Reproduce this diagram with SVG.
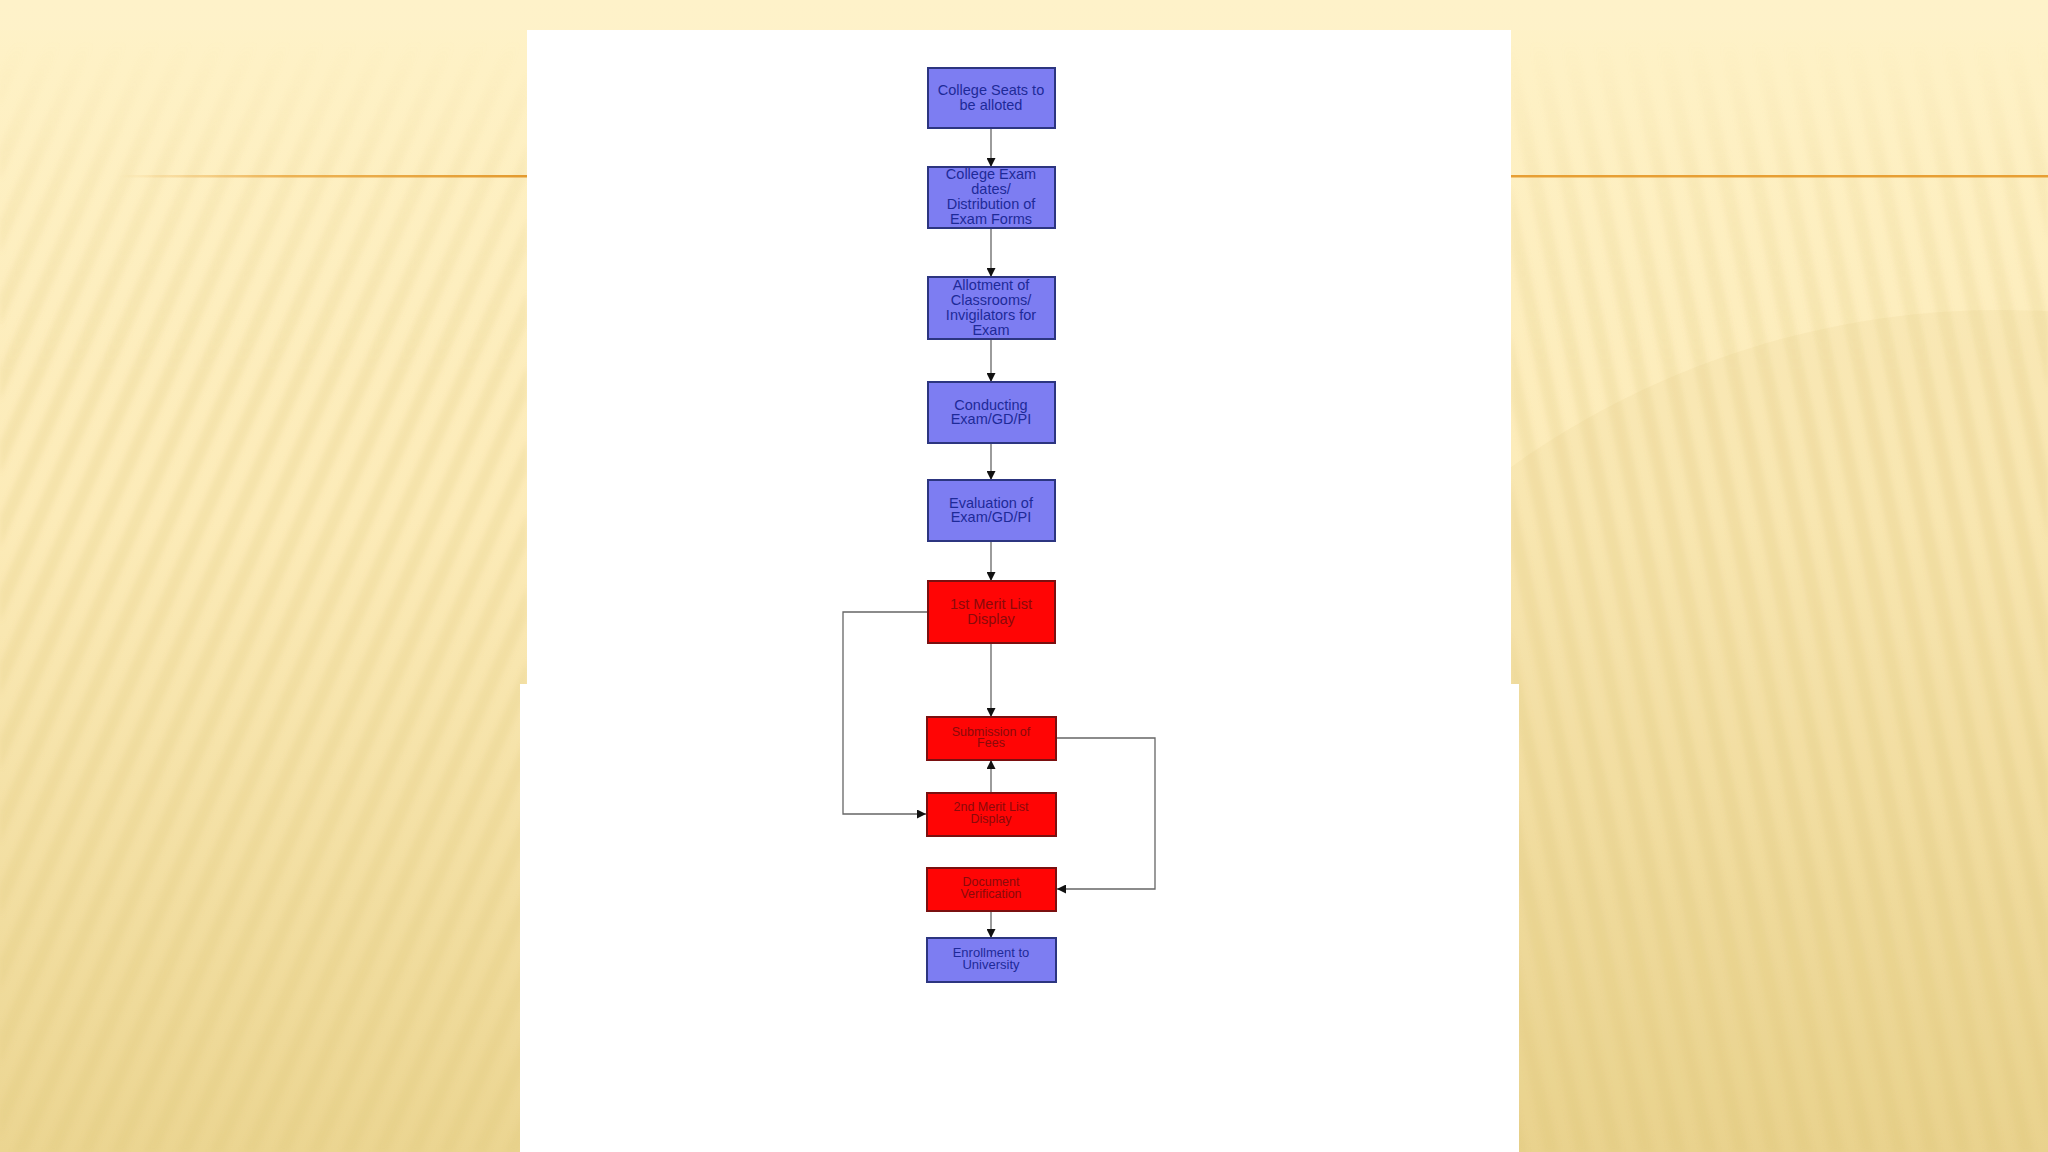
<svg xmlns="http://www.w3.org/2000/svg" width="2048" height="1152" viewBox="0 0 2048 1152">
  <defs>
    <linearGradient id="bg" x1="0" y1="0" x2="0" y2="1">
      <stop offset="0" stop-color="#FEF2C9"/>
      <stop offset="0.06" stop-color="#FEF1C5"/>
      <stop offset="0.45" stop-color="#FCEBB8"/>
      <stop offset="1" stop-color="#EBD591"/>
    </linearGradient>
    <linearGradient id="fadeTop" x1="0" y1="0" x2="0" y2="1">
      <stop offset="0" stop-color="#fff" stop-opacity="0"/>
      <stop offset="0.12" stop-color="#fff" stop-opacity="0.6"/>
      <stop offset="0.3" stop-color="#fff" stop-opacity="1"/>
      <stop offset="1" stop-color="#fff" stop-opacity="1"/>
    </linearGradient>
    <mask id="stripeMask" maskUnits="userSpaceOnUse" x="0" y="0" width="2048" height="1152">
      <rect x="0" y="40" width="2048" height="1112" fill="url(#fadeTop)"/>
    </mask>
    <filter id="soft" x="-5%" y="-5%" width="110%" height="110%">
      <feGaussianBlur stdDeviation="2.5"/>
    </filter>
    <pattern id="stripesL" width="30" height="30" patternUnits="userSpaceOnUse" patternTransform="rotate(24)">
      <rect x="0" y="0" width="13" height="30" fill="#DCC174" fill-opacity="0.2"/>
    </pattern>
    <pattern id="stripesR" width="31" height="31" patternUnits="userSpaceOnUse" patternTransform="rotate(-12)">
      <rect x="0" y="0" width="14" height="31" fill="#DCC174" fill-opacity="0.2"/>
    </pattern>
    <linearGradient id="orangeFade" x1="0" y1="0" x2="1" y2="0">
      <stop offset="0" stop-color="#E9A53C" stop-opacity="0"/>
      <stop offset="0.4" stop-color="#E9A53C" stop-opacity="0.8"/>
      <stop offset="1" stop-color="#E39A2E" stop-opacity="1"/>
    </linearGradient>
    <marker id="arr" viewBox="0 0 10 10" refX="10" refY="5" markerWidth="9" markerHeight="9" markerUnits="userSpaceOnUse" orient="auto">
      <path d="M0,0 L10,5 L0,10 Z" fill="#111"/>
    </marker>
    <style>
      .blue { fill: #7D7DF2; stroke: #2C3580; stroke-width: 2; }
      .red { fill: #FF0505; stroke: #7A1010; stroke-width: 2; }
      .tb { font-family: "Liberation Sans", Arial, sans-serif; font-size: 14.5px; fill: #1E2A98; text-anchor: middle; }
      .tr { font-family: "Liberation Sans", Arial, sans-serif; font-size: 14.5px; fill: #8A0A0A; text-anchor: middle; }
      .trs { font-family: "Liberation Sans", Arial, sans-serif; font-size: 12.5px; fill: #8A0A0A; text-anchor: middle; }
      .tbs { font-family: "Liberation Sans", Arial, sans-serif; font-size: 13px; fill: #1E2A98; text-anchor: middle; }
      .conn { fill: none; stroke: #666; stroke-width: 1.3; }
    </style>
  </defs>

  <!-- background -->
  <rect x="0" y="0" width="2048" height="1152" fill="url(#bg)"/>
  <g mask="url(#stripeMask)">
    <g filter="url(#soft)">
      <rect x="0" y="0" width="527" height="1152" fill="url(#stripesL)"/>
      <rect x="1511" y="0" width="537" height="1152" fill="url(#stripesR)"/>
    </g>
  </g>
  <circle cx="2000" cy="1150" r="840" fill="#D9BE6A" fill-opacity="0.1"/>
  <rect x="0" y="0" width="2048" height="30" fill="#FEF2C9" fill-opacity="0.6"/>

  <!-- orange rule -->
  <rect x="120" y="175" width="407" height="2.5" fill="url(#orangeFade)"/>
  <rect x="1511" y="175" width="537" height="2.5" fill="#E79F34"/>

  <!-- white panel -->
  <path d="M527,30 H1511 V684 H1519 V1152 H520 V684 H527 Z" fill="#FFFFFF"/>

  <!-- connectors -->
  <g id="connectors">
    <line class="conn" x1="991" y1="128" x2="991" y2="167" marker-end="url(#arr)"/>
    <line class="conn" x1="991" y1="228" x2="991" y2="277" marker-end="url(#arr)"/>
    <line class="conn" x1="991" y1="339" x2="991" y2="382" marker-end="url(#arr)"/>
    <line class="conn" x1="991" y1="443" x2="991" y2="480" marker-end="url(#arr)"/>
    <line class="conn" x1="991" y1="541" x2="991" y2="581" marker-end="url(#arr)"/>
    <line class="conn" x1="991" y1="643" x2="991" y2="717" marker-end="url(#arr)"/>
    <polyline class="conn" points="927,612 843,612 843,814 926,814" marker-end="url(#arr)"/>
    <line class="conn" x1="991" y1="793" x2="991" y2="760" marker-end="url(#arr)"/>
    <polyline class="conn" points="1056,738 1155,738 1155,889 1057,889" marker-end="url(#arr)"/>
    <line class="conn" x1="991" y1="911" x2="991" y2="938" marker-end="url(#arr)"/>
  </g>

  <!-- nodes -->
  <g id="n1">
    <rect class="blue" x="928" y="68" width="127" height="60"/>
    <text class="tb" x="991" y="95">College Seats to</text>
    <text class="tb" x="991" y="110">be alloted</text>
  </g>
  <g id="n2">
    <rect class="blue" x="928" y="167" width="127" height="61"/>
    <text class="tb" x="991" y="179">College Exam</text>
    <text class="tb" x="991" y="194">dates/</text>
    <text class="tb" x="991" y="209">Distribution of</text>
    <text class="tb" x="991" y="224">Exam Forms</text>
  </g>
  <g id="n3">
    <rect class="blue" x="928" y="277" width="127" height="62"/>
    <text class="tb" x="991" y="290">Allotment of</text>
    <text class="tb" x="991" y="305">Classrooms/</text>
    <text class="tb" x="991" y="320">Invigilators for</text>
    <text class="tb" x="991" y="335">Exam</text>
  </g>
  <g id="n4">
    <rect class="blue" x="928" y="382" width="127" height="61"/>
    <text class="tb" x="991" y="410">Conducting</text>
    <text class="tb" x="991" y="424">Exam/GD/PI</text>
  </g>
  <g id="n5">
    <rect class="blue" x="928" y="480" width="127" height="61"/>
    <text class="tb" x="991" y="508">Evaluation of</text>
    <text class="tb" x="991" y="522">Exam/GD/PI</text>
  </g>
  <g id="n6">
    <rect class="red" x="928" y="581" width="127" height="62"/>
    <text class="tr" x="991" y="609">1st Merit List</text>
    <text class="tr" x="991" y="624">Display</text>
  </g>
  <g id="n7">
    <rect class="red" x="927" y="717" width="129" height="43"/>
    <text class="trs" x="991" y="736">Submission of</text>
    <text class="trs" x="991" y="747">Fees</text>
  </g>
  <g id="n8">
    <rect class="red" x="927" y="793" width="129" height="43"/>
    <text class="trs" x="991" y="811">2nd Merit List</text>
    <text class="trs" x="991" y="823">Display</text>
  </g>
  <g id="n9">
    <rect class="red" x="927" y="868" width="129" height="43"/>
    <text class="trs" x="991" y="886">Document</text>
    <text class="trs" x="991" y="898">Verification</text>
  </g>
  <g id="n10">
    <rect class="blue" x="927" y="938" width="129" height="44"/>
    <text class="tbs" x="991" y="957">Enrollment to</text>
    <text class="tbs" x="991" y="969">University</text>
  </g>
</svg>
